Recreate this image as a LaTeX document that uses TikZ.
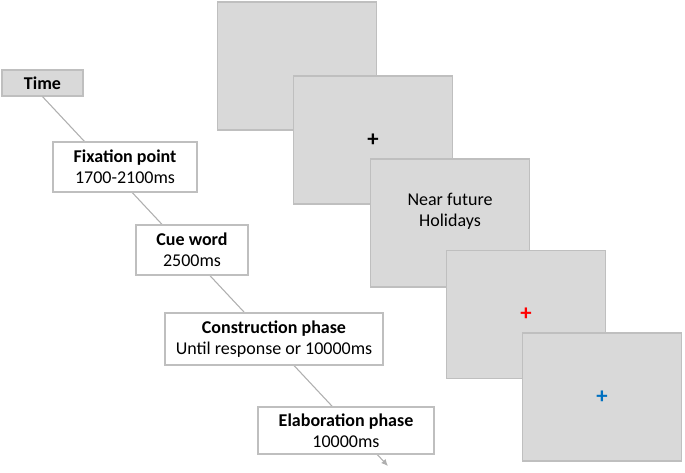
\documentclass[tikz,border=0pt]{standalone}
\usepackage{fontspec}
\setmainfont{Carlito}
\usetikzlibrary{arrows.meta}

\definecolor{screengray}{HTML}{D9D9D9}
\definecolor{framegray}{HTML}{BFBFBF}
\definecolor{linegray}{HTML}{AFAFAF}
\definecolor{cuered}{HTML}{FF0000}
\definecolor{cueblue}{HTML}{0070C0}

\begin{document}
\begin{tikzpicture}[x=0.75pt, y=-0.75pt,
   font=\fontsize{13.5}{15.75}\selectfont,
   phase/.style={draw=framegray, fill=white, line width=0.9pt, align=center, inner sep=0pt, minimum height=37.5pt},
   screen/.style={draw=framegray, fill=screengray, line width=1.2pt, inner sep=0pt, minimum width=119pt, minimum height=96pt},
   cross/.style={font=\fontsize{17}{17}\selectfont\bfseries, inner sep=0pt},
   timeline/.style={draw=linegray, line width=0.8pt, -{Latex[length=5pt, width=4.5pt]}}]
\useasboundingbox (0,0) rectangle (685,472);
% time line and its stages
\node[phase, fill=screengray, minimum width=60.75pt, minimum height=19.5pt] (time) at (42.5,83) {\textbf{Time}};
\coordinate (tend) at (388,466);
\draw[timeline] (time.south) -- (tend);
\node[phase, minimum width=108pt] (fix) at (125,167) {\textbf{Fixation point}\\1700-2100ms};
\node[phase, minimum width=84pt] (cue) at (192,250) {\textbf{Cue word}\\2500ms};
\node[phase, minimum width=163.5pt, minimum height=39pt] (cons) at (274,339) {\textbf{Construction phase}\\Until response or 10000ms};
\node[phase, minimum width=132pt, minimum height=35.25pt] (elab) at (346,430.5) {\textbf{Elaboration phase}\\10000ms};
% screens
\node[screen] (s1) at (297,66) {};
\node[screen] (s2) at (373,140) {};
\node[screen] (s3) at (450,223) {};
\node[screen] (s4) at (526,314.5) {};
\node[screen] (s5) at (602,397) {};
\node[cross] (plus) at (s2) {+};
\node[align=center] (word) at (450,211) {Near future\\Holidays};
\node[cross, text=cuered] (plusred) at (s4) {+};
\node[cross, text=cueblue] (plusblue) at (s5) {+};
\end{tikzpicture}
\end{document}
